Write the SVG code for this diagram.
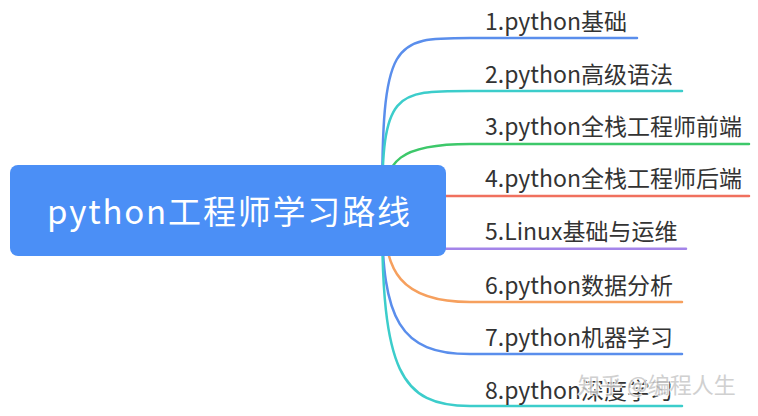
<svg xmlns="http://www.w3.org/2000/svg" width="758" height="416" viewBox="0 0 758 416">
<style>
.ln{fill:none;stroke-width:2.5;stroke-linecap:round}
.lb{font-family:"Noto Sans CJK SC","Noto Sans",sans-serif;font-size:23px;fill:#333}
.root{font-family:"Noto Sans CJK SC","Noto Sans",sans-serif;font-size:33px;fill:#fff}
.wm{font-family:"Noto Sans CJK SC","Noto Sans",sans-serif;font-size:22px;fill:#c8c8c8;stroke:#fff;stroke-width:2;paint-order:stroke;opacity:.85}
</style>
<rect width="758" height="416" fill="#fff"/>
<g id="connectors">
<path class="ln" stroke="#5A8EEC" d="M382,210 C382,38 392,38 470,38 L637,38"/>
<path class="ln" stroke="#3CCDCB" d="M382,210 C382,91 394,91 470,91 L682,91"/>
<path class="ln" stroke="#3DC86A" d="M384,205 C384,160 400,144 470,144 L749,144"/>
<path class="ln" stroke="#F0705E" d="M446,196 L749,196"/>
<path class="ln" stroke="#A484E9" d="M446,248.7 L686,248.7"/>
<path class="ln" stroke="#F6A05E" d="M384,215 C384,270 400,302 470,302 L682,302"/>
<path class="ln" stroke="#5A8EEC" d="M382,215 C382,320 400,354 470,354 L682,354"/>
<path class="ln" stroke="#3CCDCB" d="M382,215 C382,370 400,406 470,406 L682,406"/>
</g>
<g id="root">
<rect x="10" y="165" width="436" height="91" rx="8" fill="#4B8FF6"/>
<text class="root" x="47" y="224" textLength="363" lengthAdjust="spacing">python工程师学习路线</text>
</g>
<g id="n1"><text class="lb" x="485" y="30">1.python基础</text></g>
<g id="n2"><text class="lb" x="485" y="82.7">2.python高级语法</text></g>
<g id="n3"><text class="lb" x="485" y="135">3.python全栈工程师前端</text></g>
<g id="n4"><text class="lb" x="485" y="187">4.python全栈工程师后端</text></g>
<g id="n5"><text class="lb" x="485" y="240">5.Linux基础与运维</text></g>
<g id="n6"><text class="lb" x="485" y="293.5">6.python数据分析</text></g>
<g id="n7"><text class="lb" x="485" y="345.5">7.python机器学习</text></g>
<g id="n8"><text class="lb" x="485" y="398.5">8.python深度学习</text></g>
<text class="wm" x="578" y="393">知乎 @编程人生</text>
</svg>
